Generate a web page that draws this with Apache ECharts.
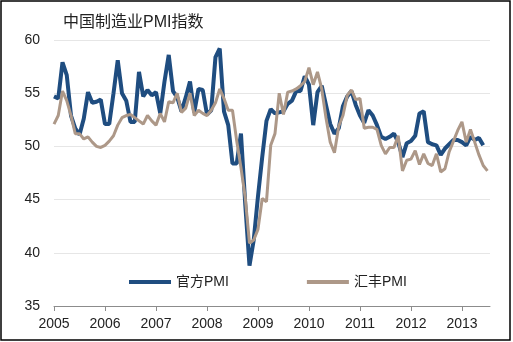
<!DOCTYPE html>
<html>
<head>
<meta charset="utf-8">
<script src="https://cdn.jsdelivr.net/npm/echarts@6/dist/echarts.min.js"></script>
<style>
html,body{margin:0;padding:0;background:#fff;}
#chart{width:513px;height:342px;}
</style>
</head>
<body>
<div id="chart"></div>
<script>
// 年份刻度
var years=[2005,2006,2007,2008,2009,2010,2011,2012,2013];
// 官方PMI 2005.01 - 2013.06
var guanfangPMI=[
  54.7,54.5,57.9,56.7,52.9,51.7,51.1,52.6,55.1,54.1,54.2,54.4,
  52.1,52.1,55.0,58.1,55.0,54.3,52.3,52.3,57.0,54.7,55.3,54.8,
  55.1,53.1,56.1,58.6,55.2,54.6,53.3,54.6,56.1,53.2,55.4,55.3,
  53.0,53.4,58.4,59.2,53.3,52.0,48.4,48.4,51.2,44.6,38.8,41.2,
  45.3,49.0,52.4,53.5,53.1,53.2,53.3,54.0,54.3,55.2,55.2,56.6,
  55.8,52.0,55.1,55.7,53.9,52.1,51.2,51.7,53.8,54.7,55.2,53.9,
  52.9,52.2,53.4,52.9,52.0,50.9,50.7,50.9,51.2,50.4,49.0,50.3,
  50.5,51.0,53.1,53.3,50.4,50.2,50.1,49.2,49.8,50.2,50.6,50.6,
  50.4,50.1,50.9,50.6,50.8,50.1
];
// 汇丰PMI 2005.01 - 2013.07
var huifengPMI=[
  52.1,52.9,55.2,54.3,52.9,51.2,51.2,50.7,50.9,50.4,50.0,49.9,
  50.1,50.5,51.0,52.0,52.7,52.9,53.0,52.7,52.4,52.1,52.9,52.4,
  52.0,53.1,52.3,54.2,54.1,55.0,53.2,53.6,55.0,52.9,53.4,53.1,
  52.9,53.4,54.1,55.4,54.5,53.4,53.4,50.5,48.0,45.2,40.9,41.2,
  42.2,45.1,44.8,50.1,51.2,55.0,53.0,55.1,55.2,55.4,55.7,56.1,
  57.4,55.8,57.0,55.4,52.7,50.4,49.4,51.9,52.9,54.8,55.3,54.4,
  54.5,51.7,51.8,51.8,51.6,50.1,49.3,49.9,49.9,51.0,47.7,48.7,
  48.8,49.6,48.3,49.3,48.4,48.2,49.3,47.6,47.9,49.5,50.5,51.5,
  52.3,50.4,51.6,50.4,49.2,48.2,47.7
];

// 按月份换算成横坐标
function toPoints(values){
  var pts=[];
  values.forEach(function(v,i){
    pts.push([years[0]+i/12,v]);
  });
  return pts;
}

var font="'Liberation Sans','Noto Sans CJK SC',sans-serif";
var chart=echarts.init(document.getElementById('chart'));
var option={
  animation:false,
  title:{
    text:'中国制造业PMI指数',
    left:58,
    top:10,
    textStyle:{fontSize:16,fontWeight:'normal',color:'#222',fontFamily:font}
  },
  graphic:[{
    type:'rect',
    shape:{x:1,y:1,width:509,height:339},
    style:{fill:'none',stroke:'#000',lineWidth:1.5}
  }],
  legend:{
    data:[
      {name:'官方PMI',icon:'rect'},
      {name:'汇丰PMI',icon:'rect'}
    ],
    left:129,
    top:275,
    padding:0,
    itemWidth:42,
    itemHeight:4,
    itemGap:78,
    textStyle:{fontSize:14,color:'#222',fontFamily:font}
  },
  grid:{
    left:54,
    right:23,
    top:40,
    bottom:36
  },
  xAxis:{
    type:'value',
    min:2005,
    max:2013.55,
    axisLine:{lineStyle:{color:'#8c8c8c',width:1}},
    axisTick:{show:true,customValues:years,length:5,lineStyle:{color:'#8c8c8c'}},
    axisLabel:{
      customValues:years,
      fontSize:14,color:'#222',margin:11,fontFamily:font,
      formatter:function(v){return String(Math.round(v));}
    },
    splitLine:{show:false}
  },
  yAxis:{
    type:'value',
    min:35,
    max:60,
    interval:5,
    axisLine:{show:false},
    axisTick:{show:false},
    axisLabel:{fontSize:14,color:'#222',margin:14,fontFamily:font},
    splitLine:{lineStyle:{color:'#e6e6e6',width:1}}
  },
  series:[
    {
      name:'官方PMI',
      type:'line',
      data:toPoints(guanfangPMI),
      symbol:'none',
      lineStyle:{color:'#1f4d80',width:4},
      itemStyle:{color:'#1f4d80'}
    },
    {
      name:'汇丰PMI',
      type:'line',
      data:toPoints(huifengPMI),
      symbol:'none',
      lineStyle:{color:'#ad9888',width:3},
      itemStyle:{color:'#ad9888'}
    }
  ]
};
chart.setOption(option);
</script>
</body>
</html>
